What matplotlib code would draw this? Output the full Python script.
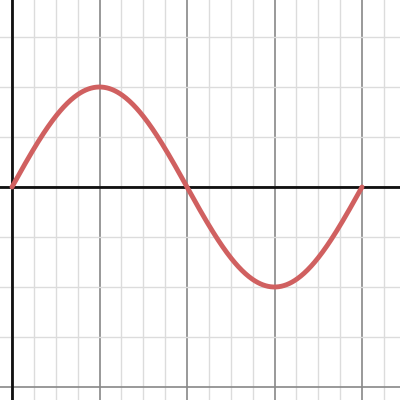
import numpy as np
import matplotlib.pyplot as plt

x_start, x_end = 0.0, 2*np.pi
n_points = 400
amplitude = 1.0

fig = plt.figure(figsize=(4, 4), dpi=100)
ax = fig.add_axes([0, 0, 1, 1])
px_x = (np.pi/2)/87.5
x0 = -12*px_x
x1 = x0 + 400*px_x
ax.set_xlim(x0, x1)
ax.set_ylim(-2.13, 1.87)

# minor vertical lines
for k in range(-1, 40):
    v = k*np.pi/8
    if v < x0 or v > x1:
        continue
    if k % 4 == 0:
        col, lw = '#888888', 1.2
    else:
        col, lw = '#dcdcdc', 1.0
    ax.axvline(v, color=col, lw=lw, zorder=1)
for k in range(-5, 5):
    v = k*0.5
    if k % 4 == 0:
        col, lw = '#888888', 1.2
    else:
        col, lw = '#dcdcdc', 1.0
    ax.axhline(v, color=col, lw=lw, zorder=1)
ax.axhline(0, color='#111111', lw=2, zorder=2)
ax.axvline(0, color='#111111', lw=2, zorder=2)

xs = np.linspace(x_start, x_end, n_points)
ax.plot(xs, amplitude*np.sin(xs), color='#d06060', lw=3.5, solid_capstyle='round', zorder=3)
ax.axis('off')
fig.savefig('out.png', dpi=100)
